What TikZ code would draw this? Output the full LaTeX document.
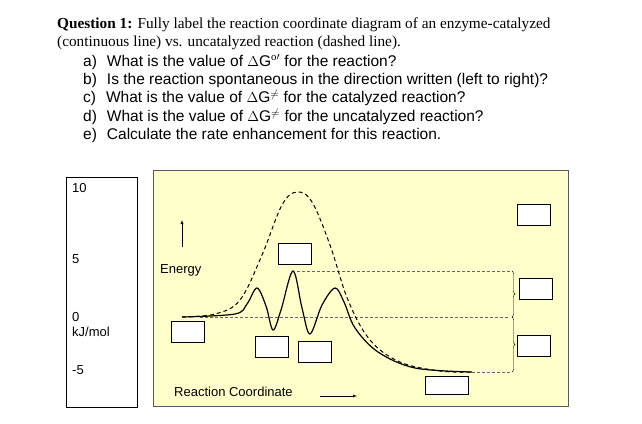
\documentclass[tikz,border=0pt]{standalone}
\usepackage{fontspec}
\setmainfont{Liberation Serif}
\newfontfamily\arial{Liberation Sans}
\usetikzlibrary{decorations.pathreplacing}
\definecolor{paleyel}{RGB}{255,255,204}
\begin{document}
\begin{tikzpicture}[x=1pt,y=-1pt,
  qline/.style={anchor=west,inner sep=0pt,font=\fontsize{15.3}{17}\selectfont},
  item/.style={anchor=west,inner sep=0pt,font=\arial\fontsize{15.5}{17}\selectfont},
  lbl/.style={anchor=west,inner sep=0pt,font=\arial\fontsize{13}{15}\selectfont},
  ansbox/.style={draw,fill=white,line width=0.8pt,minimum width=33pt,minimum height=21pt,inner sep=0pt},
  guide/.style={densely dashed,line width=0.4pt,gray!80!black}]
\useasboundingbox (0,0) rectangle (642,423);
\fill[white] (0,0) rectangle (642,423);
\node[qline] (q1) at (57,25) {\textbf{Question 1:} Fully label the reaction coordinate diagram of an enzyme-catalyzed};
\node[qline] (q2) at (57,43) {(continuous line) vs. uncatalyzed reaction (dashed line).};
\node[item] (ia) at (83,62) {a)\hspace{10pt}What is the value of $\Delta$G$^{\mathrm{o}\prime}$ for the reaction?};
\node[item] (ib) at (83,80) {b)\hspace{10pt}Is the reaction spontaneous in the direction written (left to right)?};
\node[item] (ic) at (83,98) {c)\hspace{10pt}What is the value of $\Delta$G$^{\neq}$ for the catalyzed reaction?};
\node[item] (id) at (83,117) {d)\hspace{10pt}What is the value of $\Delta$G$^{\neq}$ for the uncatalyzed reaction?};
\node[item] (ie) at (83,135) {e)\hspace{10pt}Calculate the rate enhancement for this reaction.};
% scale box
\draw[line width=0.8pt] (66,177) rectangle (137,407);
\node[lbl] (s10) at (72,188) {10};
\node[lbl] (s5) at (72,259) {5};
\node[lbl] (s0) at (72,317) {0};
\node[lbl] (su) at (72,332) {kJ/mol};
\node[lbl] (sm5) at (72,370) {-5};
% diagram panel
\draw[fill=paleyel,line width=0.6pt,draw=gray!70!black] (153,170) rectangle (568,406);
\coordinate (eb) at (182,247); \coordinate (et) at (182,220);
\draw[-latex] (eb) -- (et);
\node[lbl] (en) at (160,270) {Energy};
\node[lbl] (rc) at (174,392) {Reaction Coordinate};
\coordinate (ra) at (320,396); \coordinate (rb) at (357,396);
\draw[-latex] (ra) -- (rb);
% guide lines
\draw[guide] (297,271) -- (510,271);
\draw[guide] (200,317) -- (510,317);
\draw[guide] (472,372) -- (510,372);
\draw[decorate,decoration={brace,amplitude=3pt},line width=0.4pt] (512,271) -- (512,317);
\draw[decorate,decoration={brace,amplitude=3pt},line width=0.4pt] (512,317) -- (512,372);
% curves
\draw[dash pattern=on 4pt off 3pt,line width=1pt] plot[smooth,tension=0.6] coordinates {(182,317) (215,314) (240,300) (262,255) (282,205) (297,192) (312,202) (330,245) (348,300) (370,340) (400,362) (440,371) (472,372)};
\draw[line width=1.2pt] plot[smooth,tension=0.55] coordinates {(182,317) (235,314) (247,304) (257,288) (266,306) (273,330) (281,310) (293,271) (302,308) (310,334) (322,305) (335,288) (344,302) (355,328) (378,352) (415,368) (472,372)};
% answer boxes
\node[ansbox] (b1) at (533.5,214.5) {};
\node[ansbox] (b2) at (535.5,289) {};
\node[ansbox] (b3) at (533.5,346) {};
\node[ansbox] (b4) at (295,253.5) {};
\node[ansbox] (b5) at (187.5,332) {};
\node[ansbox] (b6) at (272,346.5) {};
\node[ansbox] (b7) at (315,352) {};
\node[ansbox,minimum width=43pt,minimum height=18pt] (b8) at (446.5,385) {};
\end{tikzpicture}
\end{document}
